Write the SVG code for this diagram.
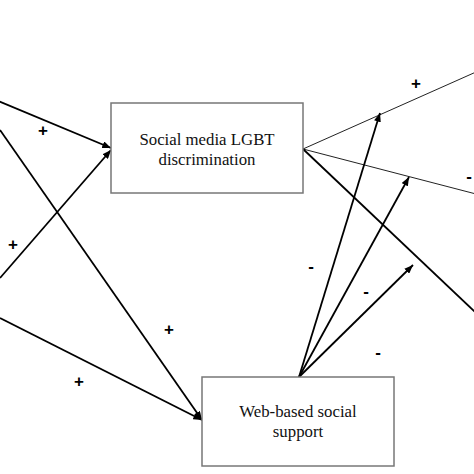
<svg xmlns="http://www.w3.org/2000/svg" width="474" height="474" viewBox="0 0 474 474">
<defs>
<marker id="ah" viewBox="0 0 10 8" refX="10" refY="4" markerWidth="9" markerHeight="7" markerUnits="userSpaceOnUse" orient="auto">
<path d="M0,0 L10,4 L0,8 z" fill="#000"/>
</marker>
<style>
.box{fill:#fff;stroke:#777;stroke-width:1.5}
.lbl{font-family:"Liberation Serif","Times New Roman",serif;font-size:16.8px;fill:#111;text-anchor:middle}
.sign{font-family:"Liberation Sans",Arial,sans-serif;font-size:17px;font-weight:bold;fill:#000;text-anchor:middle}
.thick{stroke:#000;stroke-width:1.8;fill:none}
.thin{stroke:#222;stroke-width:1;fill:none}
.arr{marker-end:url(#ah)}
</style>
</defs>
<rect width="474" height="474" fill="#fff"/>
<g id="connectors">
<line class="thick arr" x1="-2" y1="101" x2="111" y2="148"/>
<line class="thick arr" x1="0" y1="278" x2="111" y2="150"/>
<line class="thick arr" x1="0" y1="130" x2="202" y2="420"/>
<line class="thick arr" x1="0" y1="318" x2="202" y2="420"/>
<line class="thin" x1="303" y1="149" x2="476" y2="72"/>
<line class="thin" x1="303" y1="149" x2="476" y2="194"/>
<line class="thick" x1="303" y1="149" x2="476" y2="313"/>
<line class="thick arr" x1="299" y1="377" x2="380" y2="113"/>
<line class="thick arr" x1="299" y1="377" x2="409" y2="177"/>
<line class="thick arr" x1="299" y1="377" x2="413" y2="265"/>
</g>
<g id="labels">
<text class="sign" x="43" y="136">+</text>
<text class="sign" x="13" y="250">+</text>
<text class="sign" x="169" y="335">+</text>
<text class="sign" x="79" y="387">+</text>
<text class="sign" x="416" y="89">+</text>
<text class="sign" x="469" y="182">-</text>
<text class="sign" x="311" y="272">-</text>
<text class="sign" x="366" y="297">-</text>
<text class="sign" x="378" y="358">-</text>
</g>
<g id="node-discrimination">
<rect class="box" x="111" y="103" width="192" height="90"/>
<text class="lbl" x="207" y="145">Social media LGBT</text>
<text class="lbl" x="207" y="165">discrimination</text>
</g>
<g id="node-support">
<rect class="box" x="202" y="377" width="192" height="89"/>
<text class="lbl" x="298" y="417">Web-based social</text>
<text class="lbl" x="298" y="437">support</text>
</g>
</svg>
